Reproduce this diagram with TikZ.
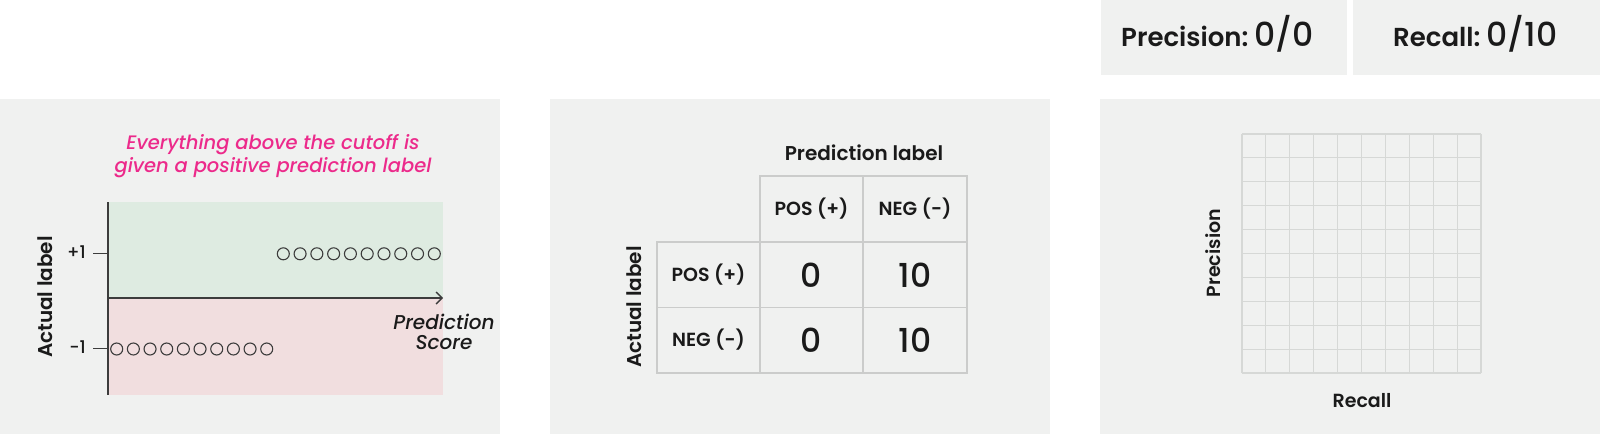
\documentclass[tikz,border=0pt]{standalone}
\usepackage{fontspec}
\setmainfont{Poppins}[BoldFont={Poppins SemiBold},ItalicFont={Poppins Italic}]
\newfontfamily\medfont{Poppins Medium}
\newfontfamily\meditfont{Poppins Medium Italic}
\usetikzlibrary{arrows.meta}
\definecolor{panelbg}{HTML}{F0F1F0}
\definecolor{posbg}{HTML}{DEEBE1}
\definecolor{negbg}{HTML}{F1DEDF}
\definecolor{pinktxt}{HTML}{EC2A8B}
\definecolor{inkc}{HTML}{1A1A1A}
\definecolor{cellline}{HTML}{CBCCCB}
\definecolor{gridline}{HTML}{D6D8D6}
\tikzset{
  panel/.style={fill=panelbg},
  axisline/.style={draw=inkc!85, line width=1.4pt},
  dotc/.style={circle, draw=inkc!85, line width=1.1pt, minimum size=12pt, inner sep=0pt},
  lbl/.style={font=\fontsize{20}{22}\selectfont\bfseries, text=inkc},
  ticklbl/.style={font=\fontsize{17.5}{19}\selectfont\medfont, text=inkc},
  celltxt/.style={font=\fontsize{19}{21}\selectfont\bfseries, text=inkc},
  numtxt/.style={font=\fontsize{33}{36}\selectfont\medfont, text=inkc},
  mline/.style={draw=cellline, line width=1.3pt},
  gline/.style={draw=gridline, line width=1.1pt}
}
\begin{document}
\begin{tikzpicture}[x=1pt,y=-1pt]
\fill[white] (0,0) rectangle (1600,434);
\useasboundingbox (0,0) rectangle (1600,434);
% top metric boxes
\fill[panel] (1101,0) rectangle (1347,75);
\fill[panel] (1353,0) rectangle (1600,75);
\node[anchor=base west, inner sep=0pt, text=inkc] (prec) at (1121,46)
  {{\fontsize{26}{30}\selectfont\bfseries Precision:}\hspace{6pt}{\medfont\fontsize{33}{36}\selectfont 0/0}};
\node[anchor=base west, inner sep=0pt, text=inkc] (rec) at (1393,46)
  {{\fontsize{26}{30}\selectfont\bfseries Recall:}\hspace{6pt}{\medfont\fontsize{33}{36}\selectfont 0/10}};
% panels
\fill[panel] (0,99) rectangle (500,434);
\fill[panel] (550,99) rectangle (1050,434);
\fill[panel] (1100,99) rectangle (1600,434);
% ---------- panel 1
\fill[posbg] (108,202) rectangle (443,298);
\fill[negbg] (108,298) rectangle (443,395);
\coordinate (ytop) at (108,202);
\coordinate (ybot) at (108,395);
\coordinate (xorig) at (108,298);
\coordinate (xend) at (443,298);
\draw[axisline] (ytop) -- (ybot);
\draw[axisline, -{Straight Barb[length=6pt,width=12pt]}] (xorig) -- (xend);
\coordinate (tp1) at (93,253.5);
\coordinate (tp2) at (108,253.5);
\coordinate (tn1) at (93,348.5);
\coordinate (tn2) at (108,348.5);
\draw[axisline] (tp1) -- (tp2);
\draw[axisline] (tn1) -- (tn2);
\node[ticklbl, anchor=east, inner sep=0pt] (plus1) at (86,252.5) {+1};
\node[ticklbl, anchor=east, inner sep=0pt] (minus1) at (86,347.5) {-1};
\foreach \i in {0,...,9} {
  \node[dotc] (p\i) at ({283.3+16.78*\i},253.8) {};
  \node[dotc] (n\i) at ({116.7+16.67*\i},349) {};
}
\node[lbl, rotate=90] (actual1) at (45,297) {Actual label};
\node[align=center, text=pinktxt, font=\fontsize{19.5}{23}\selectfont\meditfont] (note) at (273,156)
  {Everything above the cutoff is\\given a positive prediction label};
\node[align=center, text=inkc, font=\fontsize{20}{20}\selectfont\meditfont] (pscore) at (444,332)
  {Prediction\\Score};
% ---------- panel 2 : confusion matrix
\draw[mline] (760,176) rectangle (967,242);
\draw[mline] (863,176) -- (863,242);
\draw[mline] (657,242) rectangle (967,373);
\draw[mline] (760,242) -- (760,373);
\draw[mline] (863,242) -- (863,373);
\draw[mline] (657,307.5) -- (967,307.5);
\node[lbl] (predlbl) at (864,153) {Prediction label};
\node[celltxt] (hpos) at (811.5,209) {POS (+)};
\node[celltxt] (hneg) at (915,209) {NEG (-)};
\node[celltxt] (rpos) at (708.5,275) {POS (+)};
\node[celltxt] (rneg) at (708.5,340) {NEG (-)};
\node[numtxt] (tp) at (811.5,275) {0};
\node[numtxt] (fn) at (915,275) {10};
\node[numtxt] (fp) at (811.5,340) {0};
\node[numtxt] (tn) at (915,340) {10};
\node[lbl, rotate=90] (actual2) at (634,307) {Actual label};
% ---------- panel 3 : PR grid
\foreach \k in {0,...,10} {
  \draw[gline] ({1242+23.9*\k},134) -- ({1242+23.9*\k},373);
  \draw[gline] (1242,{134+23.9*\k}) -- (1481,{134+23.9*\k});
}
\node[lbl, font=\fontsize{19}{21}\selectfont\bfseries, rotate=90] (precax) at (1213,253) {Precision};
\node[lbl, font=\fontsize{19}{21}\selectfont\bfseries] (recax) at (1362,401) {Recall};
\end{tikzpicture}
\end{document}
